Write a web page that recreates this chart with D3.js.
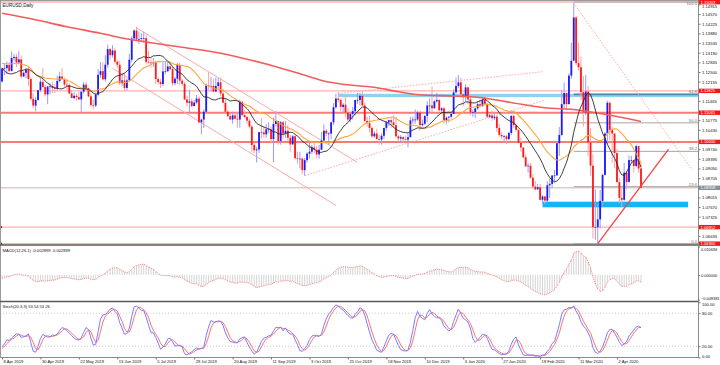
<!DOCTYPE html>
<html><head><meta charset="utf-8">
<script src="https://cdn.jsdelivr.net/npm/d3@7"></script>
<style>
body{margin:0;background:#fff}
svg{display:block}
text{font-family:'Liberation Sans',Arial,sans-serif}
</style>
</head><body>
<svg id="c" width="720" height="365"></svg>
<script>
// ---------- DATA ----------
const symbolTitle = "EURUSD,Daily";
const macdTitle = "MACD(12,26,1) -0.002899 -0.002899";
const stochTitle = "Stoch(20,3,3) 53.54 53.26";

// bars before the first visible bar (only feed the indicators)
const warmHighs  = [1.1255,1.1295,1.1339,1.1339,1.1345,1.1355,1.1362,1.1448,1.1448,1.1385,1.1325,1.1325,1.1285,1.1255,1.1245,1.1255,1.1227,1.1255,1.1240,1.1237];
const warmLows   = [1.1220,1.1240,1.1282,1.1295,1.1290,1.1315,1.1325,1.1335,1.1370,1.1270,1.1290,1.1265,1.1240,1.1210,1.1210,1.1205,1.1183,1.1200,1.1210,1.1205];
const warmCloses = [1.1248,1.1287,1.1327,1.1305,1.1325,1.1340,1.1350,1.1418,1.1373,1.1300,1.1310,1.1265,1.1250,1.1225,1.1218,1.1215,1.1205,1.1235,1.1220,1.1216];

// visible daily bars, 8 Apr 2019 .. 16 Apr 2020
const highs = [
1.1264,1.1280,1.1288,1.1285,1.1324,1.1316,1.1314,1.1324,1.1309,1.1252,1.1263,1.1268,1.1230,1.1174,1.1161,1.1185,
1.1228,1.1265,1.1205,1.1200,1.1210,1.1215,1.1208,1.1236,1.1251,1.1264,1.1230,1.1225,1.1210,1.1186,1.1177,1.1173,
1.1180,1.1179,1.1215,1.1214,1.1195,1.1170,1.1150,1.1177,1.1260,1.1285,1.1285,1.1310,1.1348,1.1336,1.1346,1.1335,
1.1292,1.1290,1.1245,1.1245,1.1227,1.1315,1.1378,1.1403,1.1412,1.1394,1.1389,1.1394,1.1384,1.1325,1.1299,1.1300,
1.1291,1.1231,1.1225,1.1284,1.1286,1.1287,1.1287,1.1270,1.1232,1.1282,1.1283,1.1225,1.1213,1.1165,1.1187,1.1155,
1.1150,1.1168,1.1162,1.1083,1.1117,1.1209,1.1250,1.1232,1.1225,1.1230,1.1228,1.1230,1.1190,1.1157,1.1114,1.1105,
1.1108,1.1105,1.1108,1.1152,1.1145,1.1113,1.1094,1.1083,1.1060,1.0998,1.0983,1.1035,1.1085,1.1055,1.1063,1.1070,
1.1055,1.1087,1.1110,1.1075,1.1075,1.1075,1.1075,1.1062,1.1025,1.1025,1.1023,1.0965,1.0965,1.0945,1.0943,1.0963,
1.0998,1.0990,1.0999,1.0985,1.0990,1.1035,1.1063,1.1045,1.1035,1.1072,1.1139,1.1172,1.1179,1.1155,1.1140,1.1164,
1.1120,1.1105,1.1125,1.1150,1.1175,1.1175,1.1180,1.1140,1.1090,1.1093,1.1055,1.1038,1.1047,1.1025,1.1030,1.1050,
1.1075,1.1080,1.1084,1.1097,1.1090,1.1025,1.1024,1.1020,1.1022,1.1030,1.1090,1.1090,1.1116,1.1110,1.1112,1.1080,
1.1095,1.1145,1.1155,1.1199,1.1150,1.1175,1.1152,1.1125,1.1125,1.1090,1.1092,1.1105,1.1188,1.1230,1.1239,1.1230,
1.1174,1.1207,1.1198,1.1165,1.1116,1.1122,1.1145,1.1150,1.1160,1.1165,1.1140,1.1100,1.1110,1.1099,1.1095,1.1065,
1.1035,1.1025,1.1025,1.1037,1.1096,1.1098,1.1065,1.1045,1.1015,1.0980,1.0955,1.0925,1.0925,1.0885,1.0860,1.0850,
1.0850,1.0810,1.0806,1.0860,1.0870,1.0880,1.0900,1.1000,1.1053,1.1185,1.1213,1.1175,1.1245,1.1355,1.1496,1.1450,
1.1355,1.1305,1.1235,1.1240,1.1200,1.1050,1.0955,1.0830,1.0780,1.0828,1.0885,1.1035,1.1147,1.1145,1.1055,1.1030,
1.0975,1.0870,1.0835,1.0925,1.0895,1.0952,1.0950,1.0935,1.0990,1.0975,1.0925];
const lows = [
1.1212,1.1238,1.1243,1.1250,1.1253,1.1288,1.1268,1.1277,1.1226,1.1232,1.1228,1.1200,1.1149,1.1120,1.1110,1.1147,
1.1178,1.1195,1.1162,1.1135,1.1170,1.1174,1.1175,1.1184,1.1212,1.1224,1.1197,1.1185,1.1172,1.1157,1.1152,1.1148,
1.1150,1.1107,1.1172,1.1182,1.1160,1.1125,1.1116,1.1124,1.1163,1.1230,1.1220,1.1215,1.1265,1.1294,1.1302,1.1280,
1.1263,1.1204,1.1200,1.1181,1.1184,1.1225,1.1284,1.1360,1.1367,1.1350,1.1360,1.1353,1.1277,1.1280,1.1264,1.1268,
1.1207,1.1206,1.1193,1.1199,1.1243,1.1250,1.1257,1.1200,1.1202,1.1207,1.1205,1.1200,1.1150,1.1127,1.1101,1.1124,
1.1130,1.1135,1.1066,1.1027,1.1050,1.1106,1.1182,1.1180,1.1178,1.1180,1.1190,1.1163,1.1140,1.1106,1.1090,1.1080,
1.1065,1.1082,1.1051,1.1051,1.1090,1.1084,1.1066,1.1048,1.0963,1.0960,1.0926,1.0960,1.1012,1.1015,1.1015,1.1030,
1.0995,1.0927,1.1055,1.0990,1.0990,1.1011,1.1015,1.1004,1.0965,1.0990,1.0938,1.0922,1.0905,1.0885,1.0879,1.0926,
1.0940,1.0956,1.0960,1.0940,1.0940,1.0970,1.1003,1.1021,1.0990,1.1010,1.1060,1.1118,1.1140,1.1110,1.1105,1.1090,
1.1073,1.1070,1.1080,1.1095,1.1135,1.1130,1.1130,1.1070,1.1055,1.1035,1.1015,1.1015,1.1010,1.0990,1.0990,1.1010,
1.1040,1.1057,1.1050,1.1050,1.1015,1.1000,1.0995,1.0995,1.1005,1.0981,1.1015,1.1065,1.1065,1.1075,1.1040,1.1055,
1.1060,1.1070,1.1105,1.1105,1.1120,1.1140,1.1110,1.1105,1.1065,1.1065,1.1070,1.1085,1.1100,1.1175,1.1193,1.1162,
1.1127,1.1145,1.1134,1.1095,1.1090,1.1085,1.1115,1.1123,1.1125,1.1130,1.1085,1.1085,1.1075,1.1078,1.1035,1.1019,
1.1010,1.1000,1.0992,1.1005,1.1024,1.1050,1.1038,1.0995,1.0965,1.0940,1.0910,1.0890,1.0868,1.0832,1.0827,1.0833,
1.0790,1.0780,1.0778,1.0785,1.0800,1.0835,1.0855,1.0880,1.0950,1.1020,1.1120,1.1115,1.1135,1.1225,1.1370,1.1275,
1.1255,1.1150,1.1055,1.1095,1.0950,1.0880,1.0655,1.0650,1.0636,1.0690,1.0770,1.0880,1.0990,1.1005,1.0925,1.0905,
1.0855,1.0780,1.0768,1.0790,1.0830,1.0855,1.0925,1.0890,1.0910,1.0890,1.0835];
const closes = [
1.1262,1.1264,1.1275,1.1253,1.1300,1.1304,1.1284,1.1295,1.1234,1.1247,1.1258,1.1225,1.1154,1.1130,1.1150,1.1185,
1.1215,1.1196,1.1170,1.1198,1.1200,1.1193,1.1190,1.1218,1.1234,1.1225,1.1205,1.1203,1.1173,1.1157,1.1165,1.1160,
1.1152,1.1180,1.1205,1.1192,1.1163,1.1132,1.1130,1.1169,1.1240,1.1253,1.1224,1.1276,1.1332,1.1310,1.1327,1.1287,
1.1276,1.1210,1.1220,1.1193,1.1220,1.1294,1.1370,1.1398,1.1366,1.1368,1.1371,1.1371,1.1286,1.1284,1.1283,1.1284,
1.1225,1.1214,1.1207,1.1252,1.1253,1.1270,1.1260,1.1210,1.1226,1.1275,1.1219,1.1208,1.1152,1.1140,1.1145,1.1128,
1.1141,1.1155,1.1070,1.1080,1.1108,1.1202,1.1200,1.1200,1.1180,1.1200,1.1213,1.1173,1.1140,1.1108,1.1092,1.1080,
1.1095,1.1083,1.1080,1.1144,1.1096,1.1089,1.1076,1.1055,1.0989,1.0970,1.0973,1.1035,1.1034,1.1027,1.1045,1.1045,
1.1010,1.1064,1.1075,1.1003,1.1070,1.1030,1.1040,1.1015,1.0991,1.1020,1.0942,1.0940,1.0940,1.0899,1.0935,1.0958,
1.0965,1.0980,1.0972,1.0955,1.0972,1.1005,1.1040,1.1030,1.1030,1.1070,1.1124,1.1155,1.1150,1.1125,1.1133,1.1105,
1.1080,1.1100,1.1110,1.1150,1.1150,1.1165,1.1130,1.1075,1.1067,1.1050,1.1020,1.1030,1.1010,1.1008,1.1022,1.1050,
1.1070,1.1078,1.1070,1.1060,1.1020,1.1012,1.1017,1.1010,1.1008,1.1017,1.1077,1.1080,1.1080,1.1105,1.1060,1.1065,
1.1093,1.1130,1.1130,1.1120,1.1145,1.1150,1.1113,1.1120,1.1078,1.1087,1.1090,1.1100,1.1177,1.1200,1.1213,1.1170,
1.1160,1.1195,1.1152,1.1105,1.1106,1.1120,1.1135,1.1128,1.1150,1.1135,1.1090,1.1095,1.1085,1.1090,1.1050,1.1025,
1.1020,1.1020,1.1010,1.1032,1.1093,1.1060,1.1043,1.0997,1.0980,1.0945,1.0913,1.0915,1.0872,1.0840,1.0830,1.0838,
1.0793,1.0805,1.0790,1.0845,1.0850,1.0880,1.0880,1.0995,1.1025,1.1135,1.1175,1.1135,1.1237,1.1290,1.1445,1.1282,
1.1267,1.1178,1.1105,1.1180,1.0998,1.0915,1.0695,1.0695,1.0723,1.0789,1.0882,1.1030,1.1140,1.1043,1.1030,1.0960,
1.0856,1.0800,1.0793,1.0890,1.0857,1.0935,1.0935,1.0914,1.0985,1.0905,1.08358];

// date axis
const dateTickBars = [0,16,32,48,64,80,96,112,128,144,160,176,192,208,224,240,256];
const dateLabels = ["8 Apr 2019","30 Apr 2019","22 May 2019","13 Jun 2019","5 Jul 2019","29 Jul 2019","20 Aug 2019","11 Sep 2019","3 Oct 2019","25 Oct 2019","18 Nov 2019","10 Dec 2019","3 Jan 2020","27 Jan 2020","18 Feb 2020","11 Mar 2020","2 Apr 2020"];

// price axis
const priceMin = 1.06331, priceMax = 1.15075;
const priceTicks = [1.14915,1.14570,1.14225,1.13880,1.13535,1.13190,1.12845,1.12500,1.12155,1.11465,1.10775,1.10430,1.09740,1.09395,1.09050,1.08705,1.08015,1.07670,1.07325,1.06635];
const macdTicks = [0.010694, 0.000000, -0.009381];
const stochTicks = [100, 80, 20, 0];
const stochLevels = [80, 20];

// long moving average (red)
const redMABars   = [0,13,27,41,53,62,75,90,99,113,127,134,141,155,165,175,188,199,213,227,238,245,257,266];
const redMAValues = [1.14599,1.14385,1.14120,1.13884,1.13670,1.13548,1.13383,1.13190,1.13019,1.12715,1.12357,1.12178,1.12071,1.11953,1.11795,1.11677,1.11642,1.11588,1.11391,1.11212,1.11159,1.11069,1.10891,1.10730];

// horizontal lines
const hLevelsMajor = [1.11045, 1.10000];
const hLevelsMinor = [1.15003, 1.11825, 1.06952, 1.06360];

// fibonacci retracement
const fibHigh = 1.15003, fibLow = 1.06360, fibStartBar = 238;
const fibRatios = [1.0, 0.618, 0.5, 0.382, 0.236, 0.0];

// trend lines [bar, price] pairs
const chanUpper  = [[56, 1.14079], [148, 1.09267]];
const chanLower  = [[46, 1.12636], [139, 1.07729]];
const riseLower  = [[126, 1.08790], [226, 1.11495]];
const riseUpper  = [[140, 1.11734], [225, 1.12511]];
const marchDiag  = [[238, 1.14960], [287, 1.09031]];
const redSupport = [[248, 1.06360], [277.5, 1.09740]];

// zones [bar0, bar1, priceTop, priceBottom]
const zoneUpper = [140, 300, 1.11720, 1.11600];
const zoneLower = [225, 285.6, 1.07862, 1.07661];

// ---------- INDICATORS ----------
const W0 = warmCloses.length;
const N = closes.length;
const allC = warmCloses.concat(closes), allH = warmHighs.concat(highs), allL = warmLows.concat(lows);
const opens = closes.map((c,i)=> i===0 ? warmCloses[W0-1] : closes[i-1]);

function sma(arr,p){return arr.map((_,i)=>d3.mean(arr.slice(Math.max(0,i-p+1),i+1)));}
function ema(arr,p){const k=2/(p+1);let e=arr[0];return arr.map((v,i)=>i===0?e:(e=v*k+e*(1-k)));}

const maBlack = sma(allC,14).slice(W0);
const maOrange = sma(allC,26).slice(W0);
const e12 = ema(allC,12), e26 = ema(allC,26);
const macd = allC.map((_,i)=>e12[i]-e26[i]).slice(W0);

const num=[],den=[];
allC.forEach((c,i)=>{const s=Math.max(0,i-19);const ll=d3.min(allL.slice(s,i+1)),hh=d3.max(allH.slice(s,i+1));num.push(c-ll);den.push(hh-ll);});
const kAll = allC.map((_,i)=>{const s=Math.max(0,i-2);const a=d3.sum(num.slice(s,i+1)),b=d3.sum(den.slice(s,i+1));return b?100*a/b:50;});
const dAll = sma(kAll,3);
const stK = kAll.slice(W0), stD = dAll.slice(W0);

// ---------- SCALES ----------
const svg = d3.select('#c');
const AX = 698;
const x = d3.scaleLinear().domain([0, N-1]).range([2, 641]);
const yP = d3.scaleLinear().domain([priceMin, priceMax]).range([244.5, 0]);
const yM = d3.scaleLinear().domain([-0.009381, 0.010694]).range([299.8, 246.5]);
const yS = d3.scaleLinear().domain([0,100]).range([357.3, 302.2]);

svg.append('rect').attr('width',720).attr('height',365).attr('fill','#fff');
const defs = svg.append('defs');
defs.append('clipPath').attr('id','cp').append('rect').attr('x',0).attr('y',0).attr('width',AX).attr('height',244.5);
defs.append('clipPath').attr('id','cm').append('rect').attr('x',0).attr('y',245.5).attr('width',AX).attr('height',55.5);
defs.append('clipPath').attr('id','cs').append('rect').attr('x',0).attr('y',302).attr('width',AX).attr('height',55);

// ---------- PRICE PANEL ----------
const gp = svg.append('g').attr('clip-path','url(#cp)');

// zones
[zoneUpper].forEach(z=>gp.append('rect').attr('x',x(z[0])).attr('width',x(z[1])-x(z[0])).attr('y',yP(z[2])).attr('height',yP(z[3])-yP(z[2])).attr('fill','#8fd2f0'));
[zoneLower].forEach(z=>gp.append('rect').attr('x',x(z[0])).attr('width',x(z[1])-x(z[0])).attr('y',yP(z[2])).attr('height',yP(z[3])-yP(z[2])).attr('fill','#12b6f2'));

// horizontal lines
hLevelsMinor.forEach(v=>gp.append('line').attr('x1',0).attr('x2',AX).attr('y1',yP(v)).attr('y2',yP(v)).attr('stroke','#ffb2b2').attr('stroke-width',1.4));
hLevelsMajor.forEach(v=>gp.append('line').attr('x1',0).attr('x2',AX).attr('y1',yP(v)).attr('y2',yP(v)).attr('stroke','#ff7878').attr('stroke-width',2));
// bid line
const lastClose = closes[N-1];
gp.append('line').attr('x1',0).attr('x2',AX).attr('y1',yP(lastClose)).attr('y2',yP(lastClose)).attr('stroke','#c9b3b3').attr('stroke-width',1);

// fib
fibRatios.forEach(r=>{
  const v = fibLow + r*(fibHigh-fibLow);
  gp.append('line').attr('x1',x(fibStartBar)).attr('x2',AX).attr('y1',yP(v)).attr('y2',yP(v))
    .attr('stroke', r===0.618 ? '#4f87ad' : '#a6a6a6').attr('stroke-width', r===0.618?1.6:1);
  gp.append('text').attr('x',AX-1).attr('y',Math.max(yP(v)-1,4.5)).attr('text-anchor','end')
    .attr('font-size',4.2).attr('fill','#707070').text(d3.format('.1f')(r*100));
});

// trend lines
const tl = (pts,color,w,dash)=>gp.append('line').attr('x1',x(pts[0][0])).attr('y1',yP(pts[0][1])).attr('x2',x(pts[1][0])).attr('y2',yP(pts[1][1]))
  .attr('stroke',color).attr('stroke-width',w).attr('stroke-dasharray',dash||null);
tl(chanUpper,'#ffa8a8',1);
tl(chanLower,'#ffa8a8',1);
tl(riseLower,'#ffa8a8',1,'1.5,1.5');
tl(riseUpper,'#ffa8a8',1,'1.5,1.5');
tl(marchDiag,'#ff9c9c',0.9,'1.5,1.5');

// candles
const cg = gp.append('g');
closes.forEach((c,i)=>{
  const o=opens[i], up=c>=o;
  cg.append('line').attr('x1',x(i)).attr('x2',x(i)).attr('y1',yP(highs[i])).attr('y2',yP(lows[i]))
    .attr('stroke', up?'#9a9aff':'#ffa0a0').attr('stroke-width',1);
  const yt=yP(Math.max(o,c)), yb=yP(Math.min(o,c));
  cg.append('rect').attr('x',x(i)-0.9).attr('width',1.8).attr('y',yt).attr('height',Math.max(0.7,yb-yt))
    .attr('fill', up?'#1a1aff':'#ff1a1a');
});

// moving averages
const lineIdx = (arr,sc)=>d3.line().x((d,i)=>x(i)).y(d=>sc(d))(arr);
gp.append('path').attr('d',d3.line().curve(d3.curveMonotoneX).x((d,i)=>x(redMABars[i])).y(d=>yP(d))(redMAValues))
  .attr('fill','none').attr('stroke','#f25c5c').attr('stroke-width',1.6);
gp.append('path').attr('d',lineIdx(maOrange,yP)).attr('fill','none').attr('stroke','#ffa53c').attr('stroke-width',1.1);
gp.append('path').attr('d',lineIdx(maBlack,yP)).attr('fill','none').attr('stroke','#2a2a2a').attr('stroke-width',0.9);

tl(redSupport,'#ff3b3b',1.2);

// left edge marks
[1.06952,1.06360].forEach(v=>svg.append('rect').attr('x',0).attr('y',yP(v)-1).attr('width',2).attr('height',2).attr('fill','#a00000'));

// ---------- MACD PANEL ----------
const gm = svg.append('g').attr('clip-path','url(#cm)');
macd.forEach((v,i)=>gm.append('line').attr('x1',x(i)).attr('x2',x(i)).attr('y1',yM(0)).attr('y2',yM(v)).attr('stroke','#c9c9c9').attr('stroke-width',0.8));
gm.append('path').attr('d',lineIdx(macd,yM)).attr('fill','none').attr('stroke','#ff7a7a').attr('stroke-width',1).attr('stroke-dasharray','1,1');

// ---------- STOCH PANEL ----------
const gs = svg.append('g').attr('clip-path','url(#cs)');
stochLevels.forEach(v=>gs.append('line').attr('x1',0).attr('x2',AX).attr('y1',yS(v)).attr('y2',yS(v)).attr('stroke','#c0c0c0').attr('stroke-width',0.8).attr('stroke-dasharray','1,2'));
gs.append('path').attr('d',lineIdx(stD,yS)).attr('fill','none').attr('stroke','#ff7272').attr('stroke-width',1);
gs.append('path').attr('d',lineIdx(stK,yS)).attr('fill','none').attr('stroke','#7c7cff').attr('stroke-width',1);

// ---------- FRAMES ----------
const fr = svg.append('g');
fr.append('line').attr('x1',0).attr('x2',AX).attr('y1',0.5).attr('y2',0.5).attr('stroke','#9a9a9a');
fr.append('line').attr('x1',0.5).attr('x2',0.5).attr('y1',0).attr('y2',357).attr('stroke','#9a9a9a');
fr.append('line').attr('x1',0).attr('x2',AX).attr('y1',245).attr('y2',245).attr('stroke','#5a5a5a').attr('stroke-width',1.6);
fr.append('line').attr('x1',0).attr('x2',AX).attr('y1',301.5).attr('y2',301.5).attr('stroke','#5a5a5a').attr('stroke-width',1.6);
fr.append('line').attr('x1',0).attr('x2',AX).attr('y1',357.5).attr('y2',357.5).attr('stroke','#8a8a8a').attr('stroke-width',1);
fr.append('line').attr('x1',AX+0.5).attr('x2',AX+0.5).attr('y1',0).attr('y2',358).attr('stroke','#8a8a8a').attr('stroke-width',1);

// ---------- AXES ----------
function styleAxis(g,fs){g.select('.domain').remove();g.selectAll('line').attr('stroke','#777');g.selectAll('text').attr('font-size',fs).attr('fill','#111').attr('font-family',"'Liberation Sans',Arial,sans-serif");}
// shift a few labels that sit against panel edges (as in the reference)
function nudge(g,val,dy){g.selectAll('.tick').filter(d=>d===val).select('text').attr('y',dy);}
svg.append('g').attr('transform',`translate(${AX+0.5},0)`)
  .call(d3.axisRight(yP).tickValues(priceTicks).tickFormat(d3.format('.5f')).tickSize(2).tickPadding(1.5))
  .call(g=>{styleAxis(g,4.2);nudge(g,priceTicks[0],1.8);});
svg.append('g').attr('transform',`translate(${AX+0.5},0)`)
  .call(d3.axisRight(yM).tickValues(macdTicks).tickFormat(d3.format('.6f')).tickSize(1.5).tickPadding(1))
  .call(g=>{styleAxis(g,3.9);nudge(g,macdTicks[0],2.6);nudge(g,macdTicks[2],-1.6);});
svg.append('g').attr('transform',`translate(${AX+0.5},0)`)
  .call(d3.axisRight(yS).tickValues(stochTicks).tickFormat(d3.format('.2f')).tickSize(2).tickPadding(1.5))
  .call(g=>{styleAxis(g,4.1);nudge(g,100,2.4);nudge(g,0,-1.2);});
svg.append('g').attr('transform','translate(0,357.5)').call(d3.axisBottom(x).tickValues(dateTickBars).tickFormat((d,i)=>dateLabels[i]).tickSize(2).tickPadding(1))
  .call(g=>{styleAxis(g,4.1);g.selectAll('text').attr('text-anchor','start').attr('dx',1).attr('dy','0.55em');});

// price boxes
const box = (v,fill,txt)=>{const yy=Math.max(yP(v),2.2);
  svg.append('rect').attr('x',AX+1).attr('y',yy-2.2).attr('width',720-AX-1).attr('height',4.4).attr('fill',fill);
  svg.append('text').attr('x',AX+2.5).attr('y',yy+1.5).attr('font-size',4.1).attr('fill','#fff').text(txt);};
hLevelsMinor.concat(hLevelsMajor).forEach(v=>box(v,'#f01818',d3.format('.5f')(v)));
box(lastClose,'#8a909b',d3.format('.5f')(lastClose));

// titles
svg.append('text').attr('x',2.5).attr('y',6.5).attr('font-size',4.6).attr('fill','#111').text(symbolTitle);
svg.append('text').attr('x',2.5).attr('y',251.5).attr('font-size',4.1).attr('fill','#111').text(macdTitle);
svg.append('text').attr('x',2.5).attr('y',308).attr('font-size',4.1).attr('fill','#111').text(stochTitle);
</script>
</body></html>
